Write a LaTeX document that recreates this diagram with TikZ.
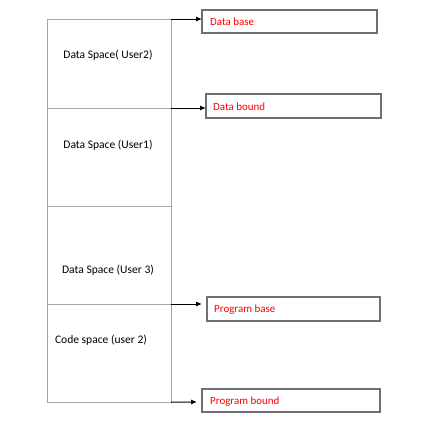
\documentclass[tikz,border=0pt]{standalone}
\usepackage{fontspec}
\setmainfont{Carlito}
\usetikzlibrary{arrows.meta,calc}
\definecolor{colline}{HTML}{A6A6A6}
\definecolor{boxline}{HTML}{707070}
\definecolor{labred}{HTML}{FF0000}
\begin{document}
\begin{tikzpicture}[x=1bp,y=-1bp,
  sect/.style={draw=colline,line width=1bp,minimum width=124bp,inner sep=0pt,outer sep=0pt,anchor=north west},
  regbox/.style={draw=boxline,line width=1.2bp,inner sep=0pt,outer sep=0pt,anchor=north west},
  seclab/.style={font=\fontsize{11.6}{13}\selectfont,inner sep=0pt},
  reglab/.style={font=\fontsize{11}{13}\selectfont,text=labred,inner sep=0pt,anchor=west},
  conn/.style={-{Latex[length=6bp,width=5bp]},line width=1bp,black}]
\useasboundingbox (0,0) rectangle (429,424);
% column sections
\node[sect,minimum height=89bp] (s1) at (47,19) {};
\node[sect,minimum height=98bp] (s2) at (47,108) {};
\node[sect,minimum height=98bp] (s3) at (47,206) {};
\node[sect,minimum height=98bp] (s4) at (47,304) {};
% section labels
\node[seclab] (t1) at (108,55) {Data Space( User2)};
\node[seclab] (t2) at (108,145) {Data Space (User1)};
\node[seclab] (t3) at (108,270) {Data Space (User 3)};
\node[seclab] (t4) at (101,340) {Code space (user 2)};
% register boxes
\node[regbox,minimum width=175bp,minimum height=23bp] (db) at (202,10) {};
\node[regbox,minimum width=175bp,minimum height=24bp] (dbd) at (206,94) {};
\node[regbox,minimum width=173bp,minimum height=24bp] (pb) at (207,297) {};
\node[regbox,minimum width=178bp,minimum height=23bp] (pbd) at (202,389) {};
% register labels
\node[reglab] (l1) at (210,21.5) {Data base};
\node[reglab] (l2) at (213,106.5) {Data bound};
\node[reglab] (l3) at (214,309.5) {Program base};
\node[reglab] (l4) at (210,401.5) {Program bound};
% connectors
\coordinate (e3) at (202,304);
\coordinate (e4) at (197,402);
\draw[conn] (s1.north east) -- (s1.north east -| db.west);
\draw[conn] (s2.north east) -- (s2.north east -| dbd.west);
\draw[conn] (s4.north east) -- (e3);
\draw[conn] (s4.south east) -- (e4);
\end{tikzpicture}
\end{document}
